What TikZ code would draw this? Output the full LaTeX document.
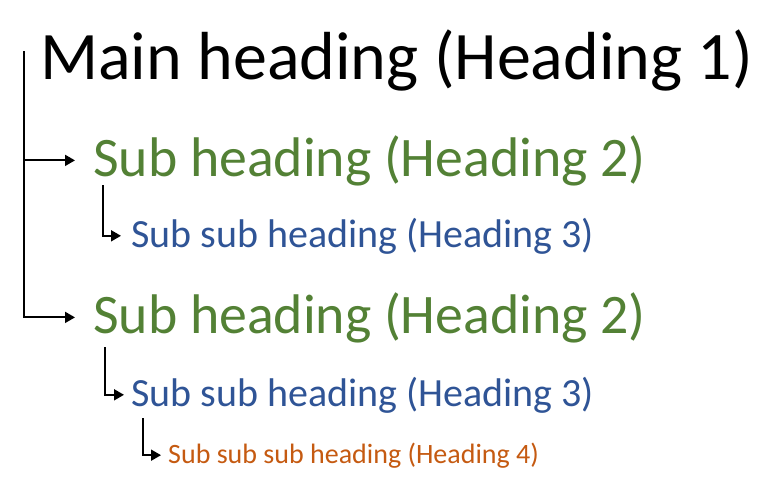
\documentclass[tikz,border=0pt]{standalone}
\usepackage{fontspec}
\setmainfont{Carlito}
\usetikzlibrary{arrows.meta}
\definecolor{green_set}{HTML}{538135}
\definecolor{blue_set}{HTML}{2F5496}
\definecolor{orange_set}{HTML}{C55A11}
\tikzset{>={Triangle[length=10pt,width=11pt]},
  heading/.style={anchor=base west, inner sep=0pt},
  level link/.style={->, line width=1.8pt}
}
\begin{document}
\begin{tikzpicture}[x=1pt, y=-1pt]
\useasboundingbox (0,0) rectangle (774,499);

% Draw the headings
\node[heading, font=\fontsize{68}{74}\selectfont] (h1) at (40,79) {Main heading (Heading 1)};
\node[heading, green_set, font=\fontsize{55.8}{62}\selectfont] (h2a) at (93,176) {Sub heading (Heading 2)};
\node[heading, blue_set, font=\fontsize{40}{46}\selectfont] (h3a) at (131,247) {Sub sub heading (Heading 3)};
\node[heading, green_set, font=\fontsize{55.8}{62}\selectfont] (h2b) at (93,333) {Sub heading (Heading 2)};
\node[heading, blue_set, font=\fontsize{40}{46}\selectfont] (h3b) at (131,406) {Sub sub heading (Heading 3)};
\node[heading, orange_set, font=\fontsize{28}{32}\selectfont] (h4) at (168,463) {Sub sub sub heading (Heading 4)};

% Draw the links between the levels
\coordinate (top1) at (24,51);
\coordinate (top2) at (102.7,185);
\coordinate (top3) at (105.3,347);
\coordinate (top4) at (142.7,418);
\draw[level link, shorten >=18pt] (top1) |- (h2a.west);
\draw[level link, shorten >=18pt] (top1) |- (h2b.west);
\draw[level link, shorten >=10pt] (top2) |- (h3a.west);
\draw[level link, shorten >=7pt] (top3) |- (h3b.west);
\draw[level link, shorten >=7pt] (top4) |- (h4.west);

\end{tikzpicture}
\end{document}
